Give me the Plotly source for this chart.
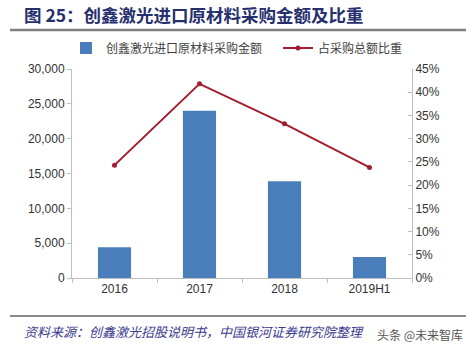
import plotly.graph_objects as go

categories = ["2016", "2017", "2018", "2019H1"]
purchase_amount = [4400, 24000, 13900, 3000]
share_ratio = [0.243, 0.418, 0.332, 0.238]
left_ticks = [0, 5000, 10000, 15000, 20000, 25000, 30000]
right_ticks = [0, 0.05, 0.10, 0.15, 0.20, 0.25, 0.30, 0.35, 0.40, 0.45]

bar_name = "创鑫激光进口原材料采购金额"
line_name = "占采购总额比重"
title_text = "图 25：创鑫激光进口原材料采购金额及比重"
source_text = "资料来源：创鑫激光招股说明书，中国银河证券研究院整理"
watermark = "头条 @未来智库"

fig = go.Figure()
fig.add_trace(go.Bar(
    x=categories, y=purchase_amount, name=bar_name,
    marker=dict(color="#4a7ebb", line=dict(width=0)),
    width=0.39, yaxis="y", legend="legend"))
fig.add_trace(go.Scatter(
    x=categories, y=share_ratio, name=line_name, mode="lines+markers",
    line=dict(color="#a31d2e", width=2),
    marker=dict(color="#a31d2e", size=5), yaxis="y2", legend="legend2"))

axis_font = dict(family="Liberation Sans, Arial, sans-serif", size=12, color="#333333")
legend_font = dict(family="Noto Sans CJK SC", size=12, color="#404040")

fig.update_layout(
    width=466, height=352,
    margin=dict(l=72, r=54, t=69, b=74, autoexpand=False),
    paper_bgcolor="white", plot_bgcolor="white",
    showlegend=True,
    legend=dict(orientation="h", xref="container", x=66 / 466, xanchor="left",
                yref="container", y=1 - 48 / 352, yanchor="middle",
                font=legend_font, bgcolor="rgba(0,0,0,0)", itemwidth=30),
    legend2=dict(orientation="h", xref="container", x=278 / 466, xanchor="left",
                 yref="container", y=1 - 48 / 352, yanchor="middle",
                 font=legend_font, bgcolor="rgba(0,0,0,0)", itemwidth=30),
    xaxis=dict(type="category", showline=True, linecolor="#bfbfbf", linewidth=1,
               ticks="outside", tickson="boundaries", ticklen=4, tickcolor="#bfbfbf",
               tickfont=axis_font, showgrid=False, zeroline=False, tickangle=0),
    yaxis=dict(range=[0, 30000], tickvals=left_ticks, tickformat=",d",
               showline=True, linecolor="#bfbfbf", linewidth=1,
               ticks="outside", ticklen=4, tickcolor="#bfbfbf",
               tickfont=axis_font, showgrid=False, zeroline=False),
    yaxis2=dict(range=[0, 0.45], tickvals=right_ticks, tickformat=".0%",
                overlaying="y", side="right",
                showline=True, linecolor="#bfbfbf", linewidth=1,
                ticks="inside", ticklen=4, tickcolor="#bfbfbf",
                tickfont=axis_font, showgrid=False, zeroline=False),
    bargap=0.6,
)

fig.add_annotation(xref="paper", yref="paper", x=-0.147, y=1.0 + (69 - 14) / 209,
                   xanchor="left", yanchor="middle", text="<b>" + title_text + "</b>",
                   showarrow=False,
                   font=dict(family="Noto Sans CJK SC", size=17.5, color="#27306e"))
fig.add_shape(type="line", xref="paper", yref="paper",
              x0=-62 / 340, x1=394 / 340, y0=1 + (69 - 30) / 209, y1=1 + (69 - 30) / 209,
              line=dict(color="#7f7f7f", width=2.5))
fig.add_shape(type="line", xref="paper", yref="paper",
              x0=-62 / 340, x1=394 / 340, y0=-(316 - 278) / 209, y1=-(316 - 278) / 209,
              line=dict(color="#666666", width=1.5))
fig.add_annotation(xref="paper", yref="paper", x=-50 / 340, y=-(331 - 278) / 209,
                   xanchor="left", yanchor="middle", text="<i>" + source_text + "</i>",
                   showarrow=False,
                   font=dict(family="Noto Sans CJK SC", size=13, color="#3b3b8f"))
fig.add_annotation(xref="paper", yref="paper", x=393 / 340, y=-(334 - 278) / 209,
                   xanchor="right", yanchor="middle", text=watermark,
                   showarrow=False,
                   font=dict(family="Noto Sans CJK SC", size=12, color="#555555"))

fig.write_html("out.html")
